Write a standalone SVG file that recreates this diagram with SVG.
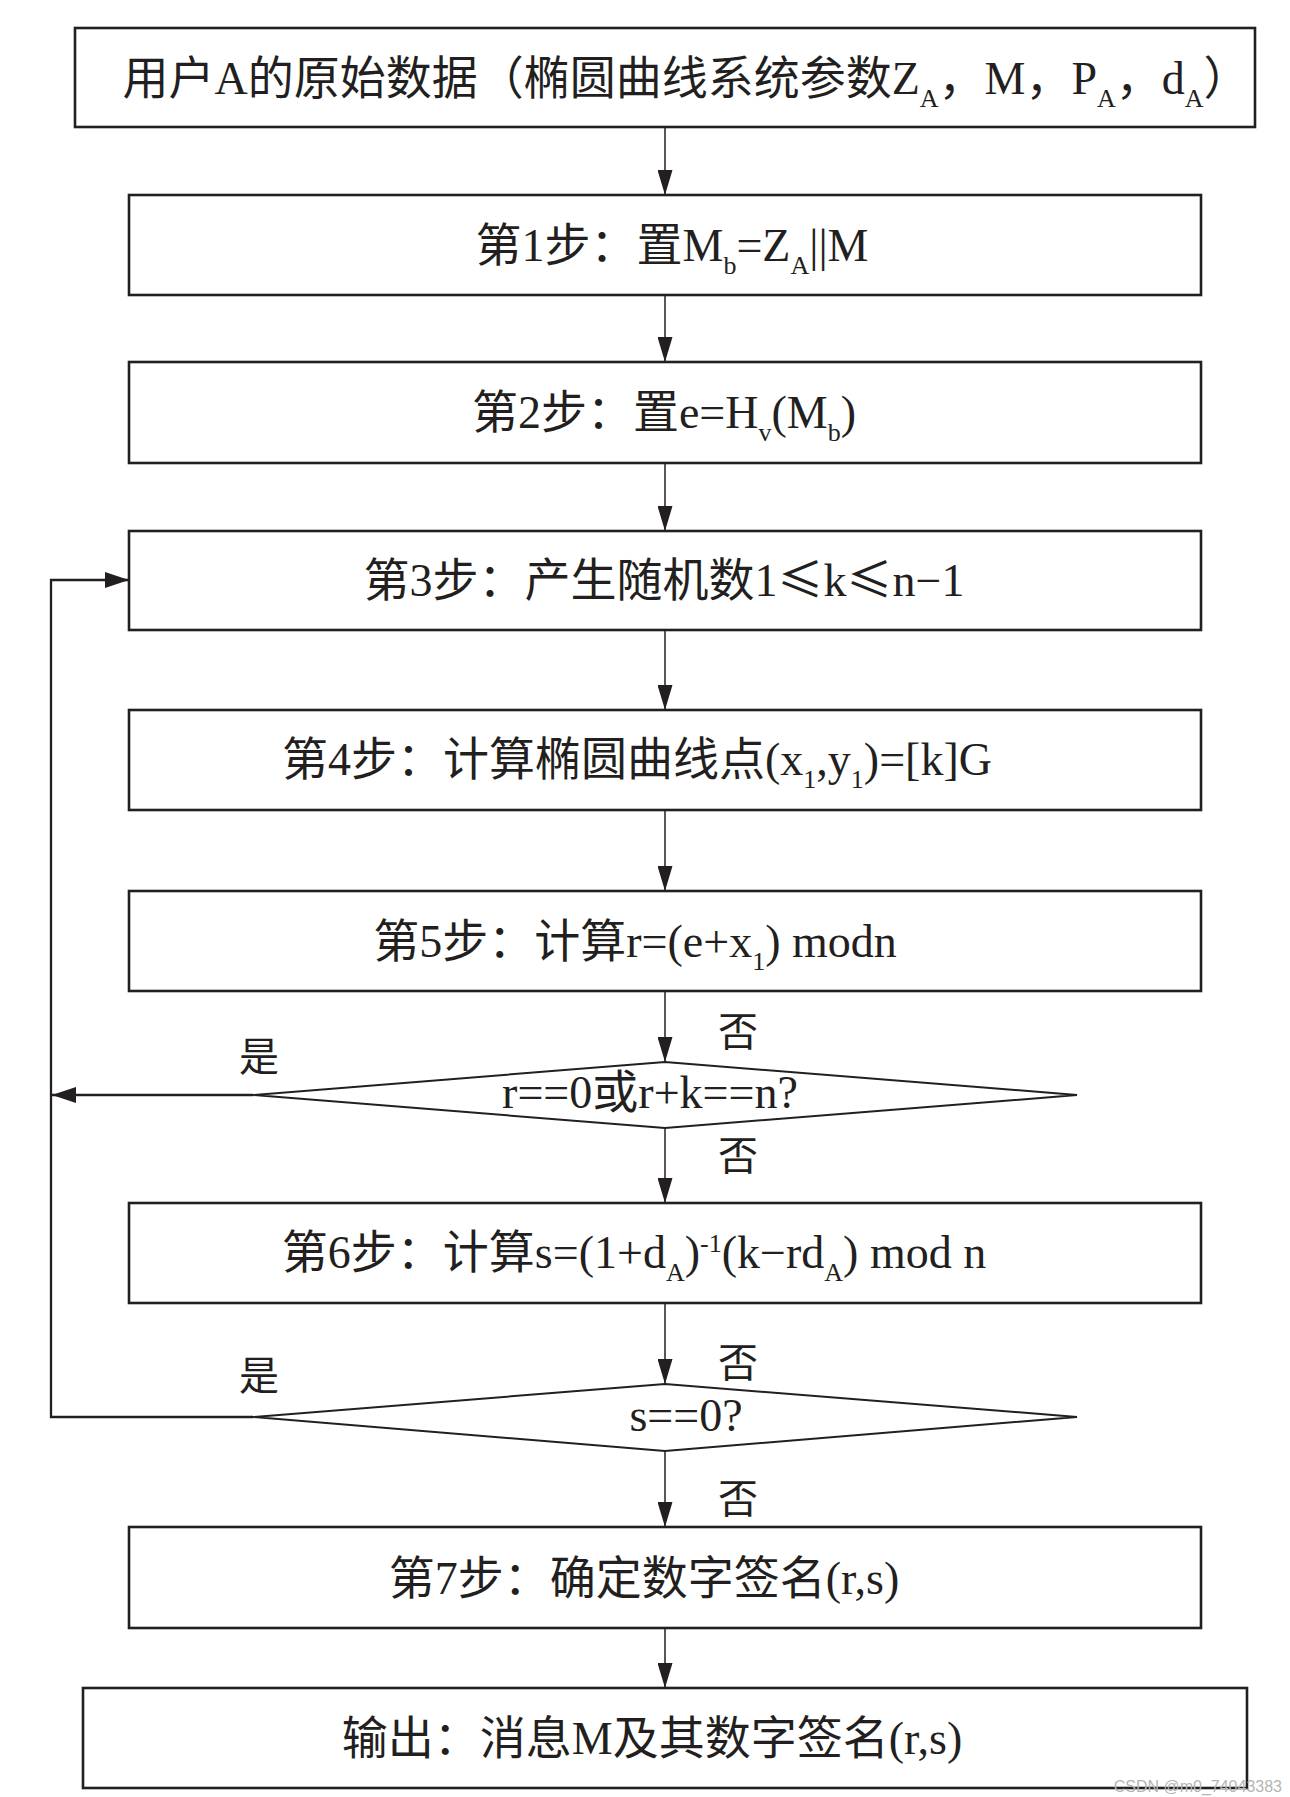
<svg xmlns="http://www.w3.org/2000/svg" width="1290" height="1797" viewBox="0 0 1290 1797">
<style>
.box{fill:#fff;stroke:#231f20;stroke-width:2.6}
.dia{fill:#fff;stroke:#231f20;stroke-width:2}
.t{font-family:"Liberation Serif","Noto Sans CJK SC",serif;font-size:46px;fill:#231f20;text-anchor:middle}
.lb{font-family:"Noto Sans CJK SC",sans-serif;font-size:40px;fill:#231f20;text-anchor:middle}
.sub{font-size:26px}
.cjk{font-family:"Noto Sans CJK SC",sans-serif}
.c{fill:none;stroke:#231f20;stroke-width:1.5}
.loop{fill:none;stroke:#231f20;stroke-width:2.3}
.wm{font-family:"Liberation Sans",sans-serif;font-size:16px;fill:#b5b5b5;text-anchor:end}
</style>
<defs>
<marker id="ah" viewBox="0 0 25 15" markerWidth="25" markerHeight="15" refX="25" refY="7.5" orient="auto" markerUnits="userSpaceOnUse">
<path d="M0,0 L25,7.5 L0,15 z" fill="#231f20"/>
</marker>
<marker id="ahl" viewBox="0 0 24 16" markerWidth="24" markerHeight="16" refX="24" refY="8" orient="auto" markerUnits="userSpaceOnUse">
<path d="M0,0 L24,8 L0,16 z" fill="#231f20"/>
</marker>
</defs>
<rect width="1290" height="1797" fill="#fff"/>

<g id="connectors">
<line class="c" x1="665" y1="127" x2="665" y2="195" marker-end="url(#ah)"/>
<line class="c" x1="665" y1="295" x2="665" y2="362" marker-end="url(#ah)"/>
<line class="c" x1="665" y1="463" x2="665" y2="531" marker-end="url(#ah)"/>
<line class="c" x1="665" y1="630" x2="665" y2="710" marker-end="url(#ah)"/>
<line class="c" x1="665" y1="810" x2="665" y2="891" marker-end="url(#ah)"/>
<line class="c" x1="665" y1="991" x2="665" y2="1062" marker-end="url(#ah)"/>
<line class="c" x1="665" y1="1128" x2="665" y2="1203" marker-end="url(#ah)"/>
<line class="c" x1="665" y1="1303" x2="665" y2="1384" marker-end="url(#ah)"/>
<line class="c" x1="665" y1="1451" x2="665" y2="1527" marker-end="url(#ah)"/>
<line class="c" x1="665" y1="1628" x2="665" y2="1688" marker-end="url(#ah)"/>
<line class="loop" x1="253" y1="1095" x2="52" y2="1095" marker-end="url(#ahl)"/>
<polyline class="loop" points="253,1417 51,1417 51,580 129,580" marker-end="url(#ahl)"/>
<text class="lb" x="738" y="1046">否</text>
<text class="lb" x="738" y="1170">否</text>
<text class="lb" x="738" y="1377">否</text>
<text class="lb" x="738" y="1513">否</text>
<text class="lb" x="259" y="1071">是</text>
<text class="lb" x="259" y="1390">是</text>
</g>

<g id="start">
<rect class="box" x="75" y="28" width="1180" height="99"/>
<text class="t" x="686" y="94">用户A的原始数据（椭圆曲线系统参数Z<tspan class="sub" dy="13">A</tspan><tspan dy="-13">，M，P</tspan><tspan class="sub" dy="13">A</tspan><tspan dy="-13">，d</tspan><tspan class="sub" dy="13">A</tspan><tspan dy="-13">）</tspan></text>
</g>

<g id="step1">
<rect class="box" x="129" y="195" width="1072" height="100"/>
<text class="t" x="672" y="261">第1步：置M<tspan class="sub" dy="13">b</tspan><tspan dy="-13">=Z</tspan><tspan class="sub" dy="13">A</tspan><tspan dy="-13">||M</tspan></text>
</g>

<g id="step2">
<rect class="box" x="129" y="362" width="1072" height="101"/>
<text class="t" x="664" y="428">第2步：置e=H<tspan class="sub" dy="13">v</tspan><tspan dy="-13">(M</tspan><tspan class="sub" dy="13">b</tspan><tspan dy="-13">)</tspan></text>
</g>

<g id="step3">
<rect class="box" x="129" y="531" width="1072" height="99"/>
<text class="t" x="664" y="596">第3步：产生随机数1<tspan class="cjk">≤</tspan>k<tspan class="cjk">≤</tspan>n−1</text>
</g>

<g id="step4">
<rect class="box" x="129" y="710" width="1072" height="100"/>
<text class="t" x="637" y="775">第4步：计算椭圆曲线点(x<tspan class="sub" dy="13">1</tspan><tspan dy="-13">,y</tspan><tspan class="sub" dy="13">1</tspan><tspan dy="-13">)=[k]G</tspan></text>
</g>

<g id="step5">
<rect class="box" x="129" y="891" width="1072" height="100"/>
<text class="t" x="635" y="957">第5步：计算r=(e+x<tspan class="sub" dy="13">1</tspan><tspan dy="-13">) modn</tspan></text>
</g>

<g id="decision1">
<polygon class="dia" points="665,1062 1077,1095 665,1128 253,1095"/>
<text class="t" x="650" y="1108">r==0或r+k==n?</text>
</g>

<g id="step6">
<rect class="box" x="129" y="1203" width="1072" height="100"/>
<text class="t" x="634" y="1268">第6步：计算s=(1+d<tspan class="sub" dy="13">A</tspan><tspan dy="-13">)</tspan><tspan class="sub" dy="-16">-1</tspan><tspan dy="16">(k−rd</tspan><tspan class="sub" dy="13">A</tspan><tspan dy="-13">) mod n</tspan></text>
</g>

<g id="decision2">
<polygon class="dia" points="665,1384 1077,1417 665,1451 253,1417"/>
<text class="t" x="686" y="1431">s==0?</text>
</g>

<g id="step7">
<rect class="box" x="129" y="1527" width="1072" height="101"/>
<text class="t" x="644" y="1594">第7步：确定数字签名(r,s)</text>
</g>

<g id="output">
<rect class="box" x="83" y="1688" width="1164" height="100"/>
<text class="t" x="652" y="1754">输出：消息M及其数字签名(r,s)</text>
</g>

<text class="wm" x="1282" y="1792">CSDN @m0_74043383</text>
</svg>
